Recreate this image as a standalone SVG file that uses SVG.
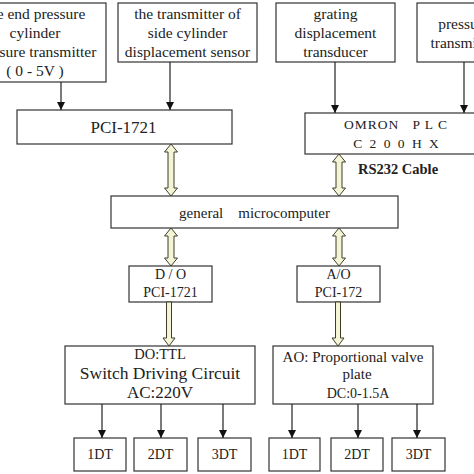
<svg xmlns="http://www.w3.org/2000/svg" width="474" height="474" viewBox="0 0 474 474">
<defs>
<marker id="ah" markerWidth="9" markerHeight="10" refX="8" refY="4" orient="auto" markerUnits="userSpaceOnUse">
<path d="M0,0 L8,4 L0,8 Z" fill="#111"/>
</marker>
<style>
.box{fill:#fff;stroke:#333;stroke-width:1.2}
.t{font-family:"Liberation Serif","Times New Roman",serif;fill:#222;text-anchor:middle}
.ln{stroke:#222;stroke-width:1.2;fill:none;marker-end:url(#ah)}
.da{fill:#f3f5d6;stroke:#3d3d28;stroke-width:1}
</style>
</defs>
<rect width="474" height="474" fill="#fff"/>

<g id="n_end_pressure">
<rect class="box" x="-40" y="3" width="146" height="79"/>
<text class="t" x="35" y="19" font-size="15.5">the end pressure</text>
<text class="t" x="35" y="38" font-size="15.5">cylinder</text>
<text class="t" x="35" y="57" font-size="15.5">pressure transmitter</text>
<text class="t" x="35" y="76" font-size="15.5" xml:space="preserve">( 0 - 5V )</text>
</g>
<g id="n_side_cyl">
<rect class="box" x="118" y="3" width="139" height="59"/>
<text class="t" x="187.5" y="19" font-size="15.5">the transmitter of</text>
<text class="t" x="187.5" y="38" font-size="15.5">side cylinder</text>
<text class="t" x="187.5" y="57" font-size="15.5">displacement sensor</text>
</g>
<g id="n_grating">
<rect class="box" x="276" y="3" width="119" height="59"/>
<text class="t" x="335.5" y="19" font-size="15.5">grating</text>
<text class="t" x="335.5" y="38" font-size="15.5">displacement</text>
<text class="t" x="335.5" y="57" font-size="15.5">transducer</text>
</g>
<g id="n_pressure_tr">
<rect class="box" x="417" y="3" width="100" height="59"/>
<text class="t" x="464" y="29" font-size="15.5">pressure</text>
<text class="t" x="464" y="48" font-size="15.5">transmitter</text>
</g>
<g id="n_pci1721">
<rect class="box" x="17" y="110" width="215" height="34"/>
<text class="t" x="123.5" y="133" font-size="17">PCI-1721</text>
</g>
<g id="n_omron">
<rect class="box" x="305" y="113" width="185" height="41"/>
<text class="t" x="396" y="129" font-size="13.5" xml:space="preserve" letter-spacing="1">OMRON   P L C</text>
<text class="t" x="397" y="148" font-size="13.5" xml:space="preserve" letter-spacing="2">C 2 0 0 H X</text>
</g>
<text class="t" x="398" y="174" font-size="14.5" font-weight="bold">RS232 Cable</text>
<g id="n_micro">
<rect class="box" x="111" y="196" width="287" height="32"/>
<text class="t" x="254.5" y="218" font-size="15" xml:space="preserve">general    microcomputer</text>
</g>
<g id="n_do">
<rect class="box" x="129" y="266" width="83" height="36"/>
<text class="t" x="170.5" y="279" font-size="14" xml:space="preserve">D / O</text>
<text class="t" x="170.5" y="297" font-size="14">PCI-1721</text>
</g>
<g id="n_ao">
<rect class="box" x="297" y="266" width="83" height="36"/>
<text class="t" x="338.5" y="279" font-size="14">A/O</text>
<text class="t" x="338.5" y="297" font-size="14">PCI-172</text>
</g>
<g id="n_switch">
<rect class="box" x="65" y="346" width="190" height="58"/>
<text class="t" x="160" y="359" font-size="14.5">DO:TTL</text>
<text class="t" x="160" y="379" font-size="17.5">Switch Driving Circuit</text>
<text class="t" x="160" y="398" font-size="17">AC:220V</text>
</g>
<g id="n_prop">
<rect class="box" x="273" y="346" width="160" height="58"/>
<text class="t" x="353" y="362" font-size="15">AO: Proportional valve</text>
<text class="t" x="357" y="379" font-size="15">plate</text>
<text class="t" x="358" y="398" font-size="14">DC:0-1.5A</text>
</g>
<g id="n_1dt_a"><rect class="box" x="74" y="438" width="52" height="33"/><text class="t" x="100" y="459" font-size="14">1DT</text></g>
<g id="n_2dt_a"><rect class="box" x="134" y="438" width="53" height="33"/><text class="t" x="160.5" y="459" font-size="14">2DT</text></g>
<g id="n_3dt_a"><rect class="box" x="198" y="438" width="53" height="33"/><text class="t" x="224.5" y="459" font-size="14">3DT</text></g>
<g id="n_1dt_b"><rect class="box" x="269" y="438" width="51" height="33"/><text class="t" x="294.5" y="459" font-size="14">1DT</text></g>
<g id="n_2dt_b"><rect class="box" x="331" y="438" width="52" height="33"/><text class="t" x="357" y="459" font-size="14">2DT</text></g>
<g id="n_3dt_b"><rect class="box" x="392" y="438" width="53" height="33"/><text class="t" x="418.5" y="459" font-size="14">3DT</text></g>

<g id="connectors">
<line class="ln" x1="61" y1="82" x2="61" y2="110"/>
<line class="ln" x1="170" y1="62" x2="170" y2="110"/>
<line class="ln" x1="335" y1="62" x2="335" y2="113"/>
<line class="ln" x1="464" y1="62" x2="464" y2="113"/>
<line class="ln" x1="102" y1="404" x2="102" y2="438"/>
<line class="ln" x1="161" y1="404" x2="161" y2="438"/>
<line class="ln" x1="223" y1="404" x2="223" y2="438"/>
<line class="ln" x1="292" y1="404" x2="292" y2="438"/>
<line class="ln" x1="358" y1="404" x2="358" y2="438"/>
<line class="ln" x1="417" y1="404" x2="417" y2="438"/>
<path class="da" d="M171,144 L177.5,152 L174,152 L174,188 L177.5,188 L171,196 L164.5,188 L168,188 L168,152 L164.5,152 Z"/>
<path class="da" d="M339,154 L345.5,162 L342,162 L342,188 L345.5,188 L339,196 L332.5,188 L336,188 L336,162 L332.5,162 Z"/>
<path class="da" d="M171,228 L177.5,236 L174,236 L174,258 L177.5,258 L171,266 L164.5,258 L168,258 L168,236 L164.5,236 Z"/>
<path class="da" d="M339,228 L345.5,236 L342,236 L342,258 L345.5,258 L339,266 L332.5,258 L336,258 L336,236 L332.5,236 Z"/>
<path class="da" d="M166.5,302 L171.5,302 L171.5,338 L175,338 L169,346 L163,338 L166.5,338 Z"/>
<path class="da" d="M335.5,302 L340.5,302 L340.5,338 L344,338 L338,346 L332,338 L335.5,338 Z"/>
</g>
</svg>
